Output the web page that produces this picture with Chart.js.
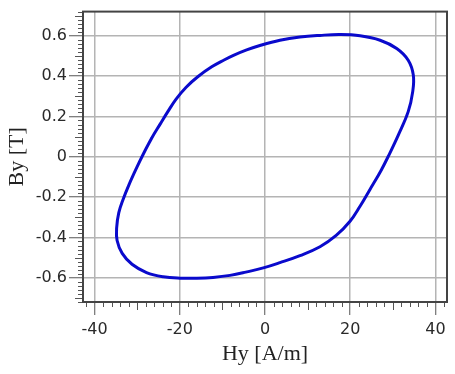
<!DOCTYPE html>
<html>
<head>
<meta charset="utf-8">
<script src="https://cdn.jsdelivr.net/npm/chart.js@4/dist/chart.umd.min.js"></script>
<style>
  html, body { margin: 0; padding: 0; background: #fff; }
  canvas { display: block; }
</style>
</head>
<body>
<canvas id="loopChart" width="455" height="374"></canvas>
<script>
// hysteresis loop, traced clockwise; last two points overlap the start to close the loop
const hyValues = [-28.4, -26.6, -24.6, -22.8, -20.9, -18.5, -15.7, -12.5, -9.6, -7.4, -4.3, -1.2,
  3.5, 8.2, 12.9, 17.6, 22.3, 27.0, 30.9, 33.6, 34.8, 34.65, 33.6, 31.3, 29.1, 27.2, 24.6,
  22.3, 19.9, 16.7, 12.9, 8.2, 3.5, -0.4, -4.5, -8.2, -12.2, -16.0, -19.9, -23.9, -27.8,
  -31.2, -33.5, -34.7, -34.8, -34.3, -33.3, -31.9, -30.1, -28.4, -26.6];
const byValues = [0.020, 0.092, 0.162, 0.224, 0.285, 0.345, 0.398, 0.446, 0.480, 0.503, 0.530, 0.552,
  0.578, 0.594, 0.602, 0.606, 0.600, 0.578, 0.537, 0.479, 0.405, 0.322, 0.224, 0.109, 0.010, -0.069, -0.163,
  -0.245, -0.321, -0.390, -0.446, -0.490, -0.525, -0.551, -0.572, -0.588, -0.598, -0.602, -0.602, -0.595, -0.574,
  -0.533, -0.479, -0.415, -0.351, -0.277, -0.212, -0.138, -0.054, 0.020, 0.092];

const xTicks = [-40, -20, 0, 20, 40];
const yTicks = [-0.6, -0.4, -0.2, 0, 0.2, 0.4, 0.6];

const points = hyValues.map((h, i) => ({ x: h, y: byValues[i] }));

// frame + minor tick marks
const framePlugin = {
  id: "frame",
  afterDraw(chart) {
    const ctx = chart.ctx;
    const a = chart.chartArea;
    const sx = chart.scales.x, sy = chart.scales.y;
    ctx.save();
    ctx.strokeStyle = "#555";
    ctx.lineWidth = 1;
    ctx.beginPath();
    for (let v = -42; v <= 42; v += 2) {
      if (v % 20 === 0) continue;
      const px = Math.round(sx.getPixelForValue(v)) + 0.5;
      const len = v % 10 === 0 ? 8 : 5;
      ctx.moveTo(px, a.bottom);
      ctx.lineTo(px, a.bottom + len);
    }
    for (let i = -36; i <= 36; i++) {
      if (i % 10 === 0) continue;
      const py = Math.round(sy.getPixelForValue(i * 0.02)) + 0.5;
      const len = i % 5 === 0 ? 8 : 5;
      ctx.moveTo(a.left, py);
      ctx.lineTo(a.left - len, py);
    }
    ctx.stroke();
    ctx.lineWidth = 2;
    ctx.strokeStyle = "#444";
    ctx.strokeRect(a.left, a.top, a.right - a.left, a.bottom - a.top);
    ctx.restore();
  }
};

new Chart(document.getElementById("loopChart"), {
  type: "scatter",
  data: {
    datasets: [{
      data: points,
      showLine: true,
      borderColor: "#0a0acc",
      borderWidth: 3,
      pointRadius: 0,
      tension: 0.4,
      fill: false
    }]
  },
  options: {
    responsive: false,
    animation: false,
    layout: { padding: { left: 0, right: 8, top: 10, bottom: 0 } },
    plugins: { legend: { display: false }, tooltip: { enabled: false } },
    scales: {
      x: {
        type: "linear",
        min: -42.7,
        max: 42.7,
        afterBuildTicks: (scale) => { scale.ticks = xTicks.map(v => ({ value: v })); },
        afterFit: (scale) => { scale.height = 72; },
        grid: { color: "#b4b4b4", lineWidth: 1.5, tickLength: 13, tickColor: "#555", tickWidth: 1 },
        border: { display: false },
        ticks: {
          padding: 5,
          maxRotation: 0,
          color: "#2a2a2a",
          font: { family: "DejaVu Sans", size: 16 },
          callback: (v) => String(Math.round(v))
        },
        title: {
          display: true,
          text: "Hy [A/m]",
          color: "#222",
          font: { family: "Liberation Serif", size: 22 },
          padding: { top: 0, bottom: 7 }
        }
      },
      y: {
        type: "linear",
        min: -0.72,
        max: 0.72,
        afterBuildTicks: (scale) => { scale.ticks = yTicks.map(v => ({ value: v })); },
        afterFit: (scale) => { scale.width = 83; },
        grid: { color: "#b4b4b4", lineWidth: 1.5, tickLength: 14, tickColor: "#555", tickWidth: 1 },
        border: { display: false },
        ticks: {
          padding: 2,
          color: "#2a2a2a",
          font: { family: "DejaVu Sans", size: 16 },
          callback: (v) => (Math.abs(v) < 1e-9 ? "0" : v.toFixed(1))
        },
        title: {
          display: true,
          text: "By [T]",
          color: "#222",
          font: { family: "Liberation Serif", size: 22 },
          padding: { top: 4, bottom: 0 }
        }
      }
    }
  },
  plugins: [framePlugin]
});
</script>
</body>
</html>
